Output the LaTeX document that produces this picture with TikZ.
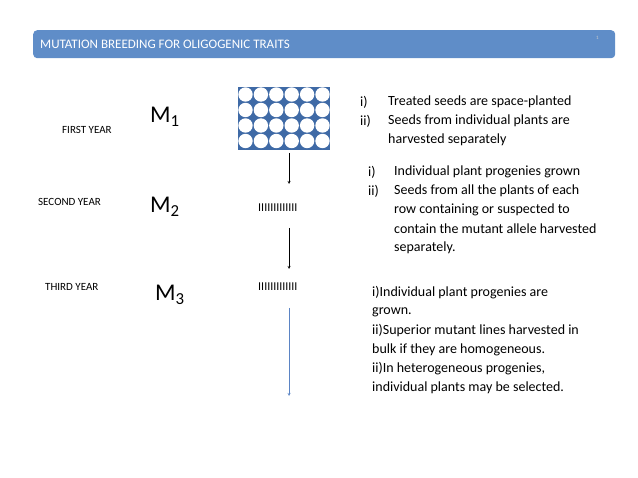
\documentclass[tikz,border=0pt]{standalone}
\usepackage{fontspec}
\setmainfont{Carlito}
\definecolor{ban}{HTML}{5F8DC8}
\definecolor{grid}{HTML}{3F6AA6}
\definecolor{blu}{HTML}{5B84C4}
\begin{document}
\begin{tikzpicture}[x=1pt,y=-1pt,
  txt/.style={anchor=west,inner sep=0,font=\fontsize{14}{17}\selectfont},
  yr/.style={anchor=west,inner sep=0,font=\fontsize{11}{13}\selectfont},
  mm/.style={anchor=west,inner sep=0,font=\fontsize{24}{28}\selectfont},
  bars/.style={anchor=west,inner sep=0,font=\fontsize{12}{14}\selectfont},
  arr/.style={->,>=stealth,thin}]
\useasboundingbox (0,0) rectangle (638,478);
\node[fill=ban,rounded corners=4pt,minimum width=582pt,minimum height=28pt,anchor=north west,inner sep=0] (ban) at (33,30) {};
\node[anchor=west,inner sep=0,text=white,font=\fontsize{13}{15}\selectfont] (title) at (40,44) {MUTATION BREEDING FOR OLIGOGENIC TRAITS};
\node[anchor=west,inner sep=0,text=gray!40,font=\fontsize{5}{6}\selectfont] (pg) at (596,38) {1};
\node[yr] (y1) at (62,130) {FIRST YEAR};
\node[yr] (y2) at (38,202) {SECOND YEAR};
\node[yr] (y3) at (45,287) {THIRD YEAR};
\node[mm] (m1) at (150,117) {M\textsubscript{1}};
\node[mm] (m2) at (150,207) {M\textsubscript{2}};
\node[mm] (m3) at (155,295) {M\textsubscript{3}};
\node[fill=grid,minimum width=92pt,minimum height=63pt,anchor=north west,inner sep=0] (g) at (238,87) {};
\foreach \i in {0,...,5}{\foreach \j in {0,...,3}{
  \fill[white] (245.5+\i*15.4,94.5+\j*15.5) circle (7.2);}}
\node[bars] (b1) at (258,208) {IIIIIIIIIIIII};
\node[bars] (b2) at (258,287) {IIIIIIIIIIIII};
\coordinate (a1s) at (289,153); \coordinate (a1e) at (289,184);
\coordinate (a2s) at (289,228); \coordinate (a2e) at (289,269);
\coordinate (a3s) at (289,308); \coordinate (a3e) at (289,396);
\draw[arr] (a1s) -- (a1e);
\draw[arr] (a2s) -- (a2e);
\draw[arr,blu] (a3s) -- (a3e);
\node[txt] (n1) at (360,102) {i)};
\node[txt] (n2) at (360,121) {ii)};
\node[txt] (t1) at (388,102) {Treated seeds are space-planted};
\node[txt] (t2) at (388,121) {Seeds from individual plants are};
\node[txt] (t3) at (388,140) {harvested separately};
\node[txt] (n3) at (368,172) {i)};
\node[txt] (n4) at (368,191) {ii)};
\node[txt] (s1) at (394,172) {Individual plant progenies grown};
\node[txt] (s2) at (394,191) {Seeds from all the plants of each};
\node[txt] (s3) at (394,210) {row containing or suspected to};
\node[txt] (s4) at (394,229) {contain the mutant allele harvested};
\node[txt] (s5) at (394,248) {separately.};
\node[txt] (u1) at (372,293) {i)Individual plant progenies are};
\node[txt] (u2) at (372,312) {grown.};
\node[txt] (u3) at (372,331) {ii)Superior mutant lines harvested in};
\node[txt] (u4) at (372,350) {bulk if they are homogeneous.};
\node[txt] (u5) at (372,369) {ii)In heterogeneous progenies,};
\node[txt] (u6) at (372,388) {individual plants may be selected.};
\end{tikzpicture}
\end{document}
